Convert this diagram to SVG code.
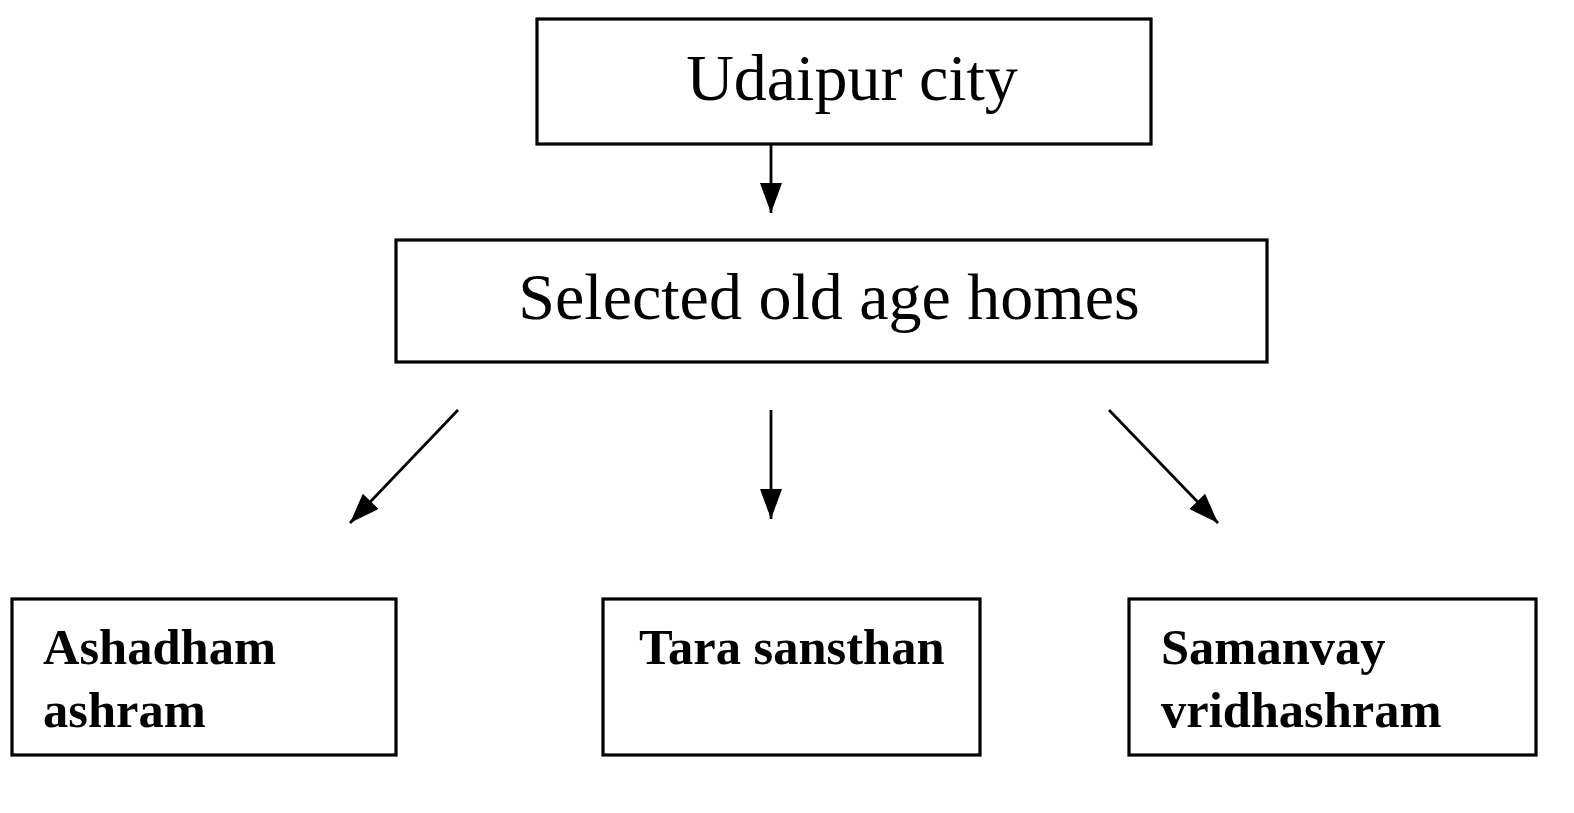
<svg xmlns="http://www.w3.org/2000/svg" width="1574" height="813" viewBox="0 0 1574 813">
<defs>
<marker id="ah" markerUnits="userSpaceOnUse" markerWidth="32" markerHeight="24" refX="30" refY="11" orient="auto">
<path d="M0,0 L30,11 L0,22 z" fill="#000"/>
</marker>
<style>
.box{fill:#fff;stroke:#000;stroke-width:3.2}
.con{stroke:#000;stroke-width:2.8;fill:none;marker-end:url(#ah)}
.big{font-family:"Liberation Serif","Times New Roman",serif;font-size:66px;fill:#000}
.bold{font-family:"Liberation Serif","Times New Roman",serif;font-size:50.5px;font-weight:bold;fill:#000}
</style>
</defs>
<rect width="1574" height="813" fill="#fff"/>
<g id="connectors">
<line class="con" x1="771" y1="144" x2="771" y2="213"/>
<line class="con" x1="458" y1="410" x2="350" y2="523"/>
<line class="con" x1="771" y1="410" x2="771" y2="519"/>
<line class="con" x1="1109" y1="410" x2="1218" y2="523"/>
</g>
<g id="udaipur">
<rect class="box" x="537" y="19" width="614" height="125"/>
<text class="big" x="852" y="100" text-anchor="middle">Udaipur city</text>
</g>
<g id="selected">
<rect class="box" x="396" y="240" width="871" height="122"/>
<text class="big" x="829" y="319" text-anchor="middle">Selected old age homes</text>
</g>
<g id="ashadham">
<rect class="box" x="12" y="599" width="384" height="156"/>
<text class="bold" x="43" y="664">Ashadham</text>
<text class="bold" x="43" y="727">ashram</text>
</g>
<g id="tara">
<rect class="box" x="603" y="599" width="377" height="156"/>
<text class="bold" x="639" y="664">Tara sansthan</text>
</g>
<g id="samanvay">
<rect class="box" x="1129" y="599" width="407" height="156"/>
<text class="bold" x="1161" y="664">Samanvay</text>
<text class="bold" x="1161" y="727">vridhashram</text>
</g>
</svg>
